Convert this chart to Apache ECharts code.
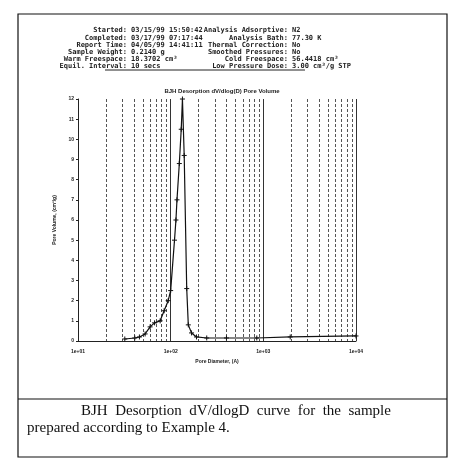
<!DOCTYPE html>
<html><head><meta charset="utf-8">
<script src="https://cdn.jsdelivr.net/npm/echarts@6/dist/echarts.min.js"></script>
<style>html,body{margin:0;background:#fff}#c{width:474px;height:475px}</style>
</head><body><div id="c"></div>
<script>
var diameters = [32, 41, 46, 53, 60, 67, 77, 85, 94, 100, 110, 114, 117, 124, 130, 134, 140, 149, 155, 168, 190, 245, 400, 850, 1950, 10000];
var poreVolume = [0.1, 0.15, 0.2, 0.35, 0.7, 0.9, 1.0, 1.5, 2.0, 2.5, 5.0, 6.0, 7.0, 8.8, 10.5, 12, 9.2, 2.6, 0.8, 0.4, 0.2, 0.15, 0.15, 0.15, 0.2, 0.25];
var headerLeftLabels = ['Started:', 'Completed:', 'Report Time:', 'Sample Weight:', 'Warm Freespace:', 'Equil. Interval:'];
var headerLeftValues = ['03/15/99 15:50:42', '03/17/99 07:17:44', '04/05/99 14:41:11', '0.2140 g', '18.3702 cm\u00b3', '10 secs'];
var headerRightLabels = ['Analysis Adsorptive:', 'Analysis Bath:', 'Thermal Correction:', 'Smoothed Pressures:', 'Cold Freespace:', 'Low Pressure Dose:'];
var headerRightValues = ['N2', '77.30 K', 'No', 'No', '56.4418 cm\u00b3', '3.00 cm\u00b3/g STP'];
var points = diameters.map(function(d, i){ return [d, poreVolume[i]]; });

function headerText(labels, values, x){
	var out = [];
	labels.forEach(function(t, i){
		var y = 27 + i * 7.2;
		out.push({type: 'text', style: {x: x, y: y, text: t, font: 'bold 7px "DejaVu Sans Mono"', fill: '#222', textAlign: 'right'}});
		out.push({type: 'text', style: {x: x + 4, y: y, text: values[i], font: 'bold 7px "DejaVu Sans Mono"', fill: '#222', textAlign: 'left'}});
	});
	return out;
}
var myChart = echarts.init(document.getElementById('c'));
myChart.setOption({
	animation: false,
	title: {text: 'BJH Desorption dV/dlog(D) Pore Volume', left: 217, top: 83, textAlign: 'center',
		textStyle: {fontSize: 6, fontWeight: 'bold', color: '#222', fontFamily: 'Liberation Sans'}},
	grid: {left: 78, right: 118, top: 99, bottom: 134},
	xAxis: {
		type: 'log', min: 10, max: 10000, logBase: 10,
		name: 'Pore Diameter, (A)', nameLocation: 'middle', nameGap: 14,
		nameTextStyle: {fontSize: 5, fontWeight: 'bold', color: '#222'},
		axisLine: {lineStyle: {color: '#222'}},
		axisTick: {show: false},
		axisLabel: {fontSize: 5, fontWeight: 'bold', color: '#222', formatter: function(v){ return '1e+0' + Math.round(Math.log10(v)); }},
		splitLine: {show: true, lineStyle: {color: '#333', width: 1}},
		minorTick: {show: false, splitNumber: 9},
		minorSplitLine: {show: true, lineStyle: {color: '#555', type: [3, 2], width: 1}}
	},
	yAxis: {
		type: 'value', min: 0, max: 12, interval: 1,
		name: 'Pore Volume, (cm\u00b3/g)', nameLocation: 'middle', nameGap: 16, nameRotate: 90,
		nameTextStyle: {fontSize: 5, fontWeight: 'bold', color: '#222'},
		axisLine: {show: true, lineStyle: {color: '#222'}},
		axisTick: {show: true, length: 2},
		axisLabel: {fontSize: 5, fontWeight: 'bold', color: '#222', margin: 4},
		splitLine: {show: false}
	},
	series: [{
		type: 'line', data: points, symbol: 'path://M0,-1L0,1M-1,0L1,0', symbolSize: 5,
		itemStyle: {color: '#111', borderColor: '#111'}, lineStyle: {color: '#111', width: 1.2}
	}],
	graphic: [
		{type: 'rect', shape: {x: 18, y: 14, width: 429, height: 443}, style: {fill: 'none', stroke: '#111', lineWidth: 1.2}},
		{type: 'line', shape: {x1: 18, y1: 399, x2: 447, y2: 399}, style: {stroke: '#111', lineWidth: 1.2}},
		{type: 'line', shape: {x1: 105, y1: 70, x2: 305, y2: 70}, style: {stroke: '#222', lineWidth: 1}},
		{type: 'text', left: 81, top: 404, style: {text: 'BJH  Desorption  dV/dlogD  curve  for  the  sample', font: '15px "Liberation Serif"', fill: '#111'}},
		{type: 'text', left: 27, top: 421, style: {text: 'prepared according to Example 4.', font: '15px "Liberation Serif"', fill: '#111'}}
	].concat(headerText(headerLeftLabels, headerLeftValues, 127), headerText(headerRightLabels, headerRightValues, 288))
});
</script></body></html>
